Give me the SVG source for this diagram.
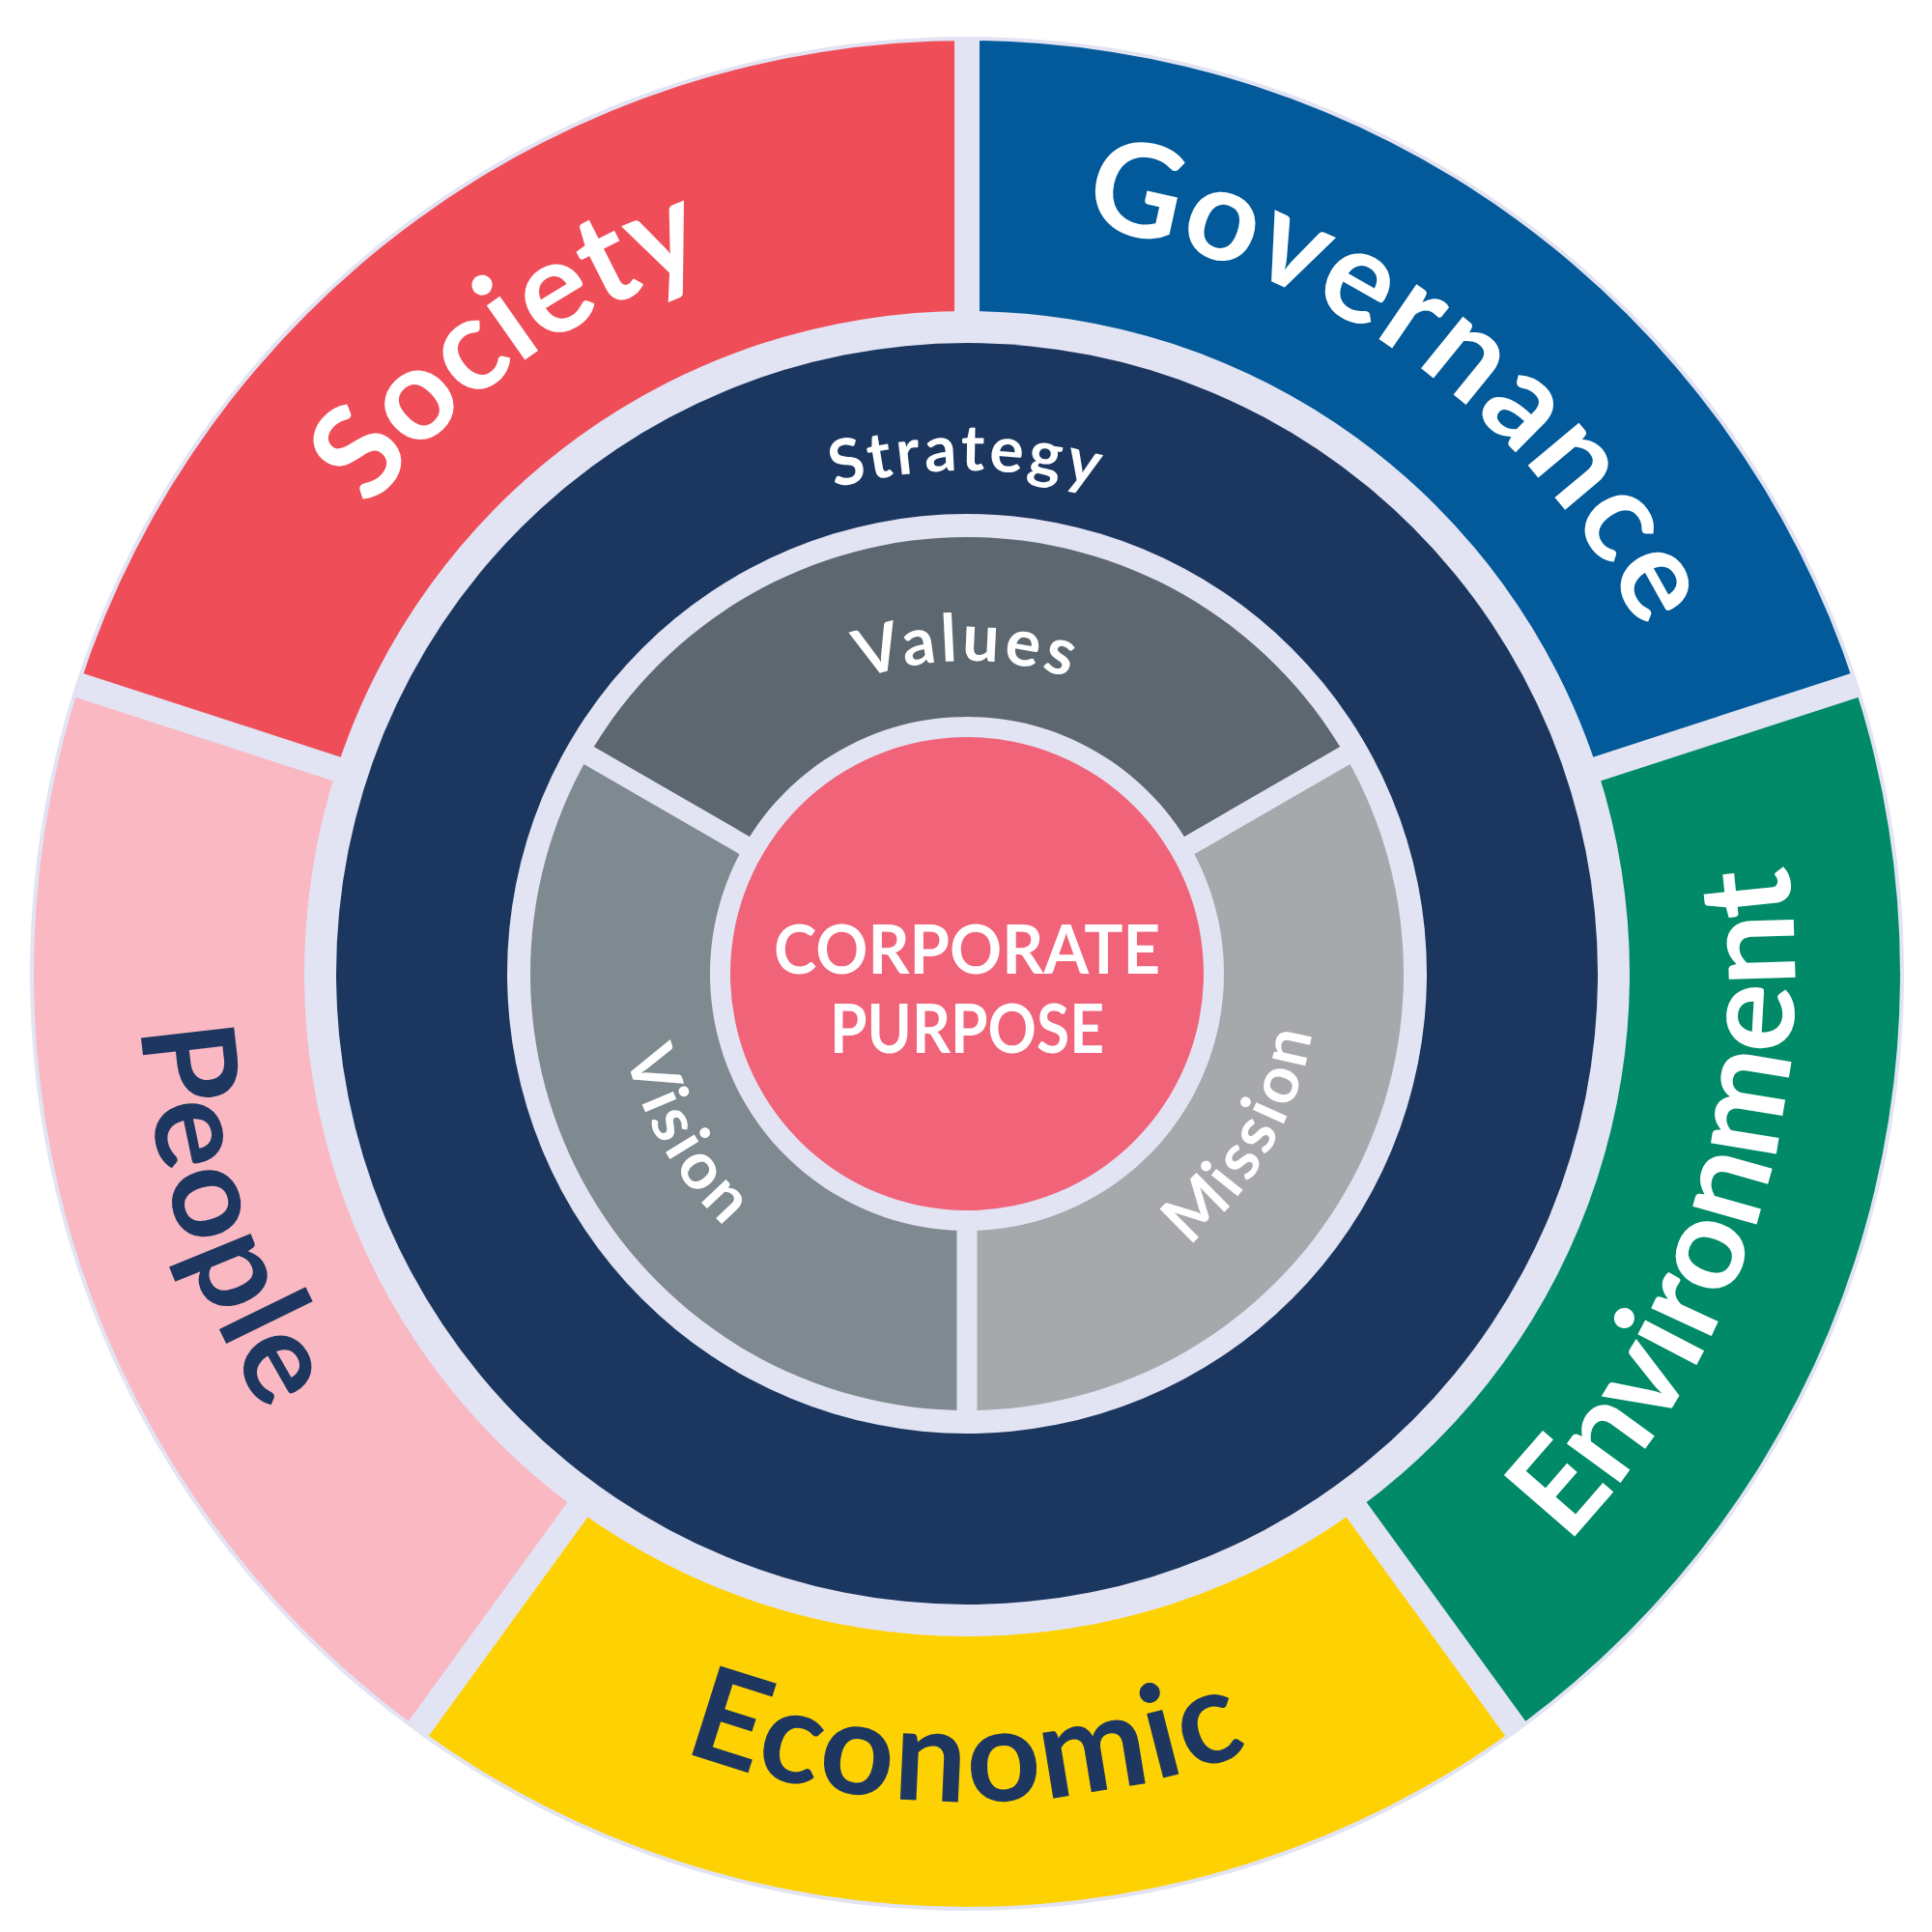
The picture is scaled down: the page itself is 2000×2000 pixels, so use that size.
<svg xmlns="http://www.w3.org/2000/svg" width="2000" height="2000" viewBox="0 0 2000 2000">
<style>
.lbl{font-family:Lato,"Liberation Sans",sans-serif;font-weight:700;}
.outer{font-size:134px;letter-spacing:3px;}
.tight{letter-spacing:0px;}
.inner{font-size:68px;letter-spacing:4px;}
.strat{font-size:66px;letter-spacing:4px;}
.w{fill:#FFFFFF;}
.n{fill:#1D3760;}
.div{stroke:#E2E3F3;stroke-linecap:butt;}
</style>
<defs>
<path id="pSociety" d="M 367.54,1468.24 A 783 783 0 0 1 1634.46,547.76"/>
<path id="pGovernance" d="M 367.54,547.76 A 783 783 0 0 1 1634.46,1468.24"/>
<path id="pEnvironment" d="M 736.17,1823.06 A 857 857 0 0 0 1265.83,192.94"/>
<path id="pEconomic" d="M 144,1008 A 857 857 0 0 0 1858,1008"/>
<path id="pPeople" d="M 736.17,192.94 A 857 857 0 0 0 1265.83,1823.06"/>
<path id="pStrategy" d="M 480,1008 A 521 521 0 0 1 1522,1008"/>
<path id="pValues" d="M 677,1008 A 324 324 0 0 1 1325,1008"/>
<path id="pVision" d="M 819,692.77 A 364 364 0 0 0 1183,1323.23"/>
<path id="pMission" d="M 819,1323.23 A 364 364 0 0 0 1183,692.77"/>
</defs>
<rect width="2000" height="2000" fill="#FFFFFF"/>
<circle id="outer-rim" cx="1001" cy="1008" r="970" fill="#E2E3F3"/>
<g id="society">
<path d="M 82.28,709.49 A 966 966 0 0 1 1001,42 L 1001,322 A 686 686 0 0 0 348.57,796.01 Z" fill="#EF4D58"/>
<text class="lbl outer tight w"><textPath href="#pSociety" startOffset="50%" text-anchor="middle">Society</textPath></text>
</g>
<g id="governance">
<path d="M 1001,42 A 966 966 0 0 1 1919.72,709.49 L 1653.43,796.01 A 686 686 0 0 0 1001,322 Z" fill="#025A9A"/>
<text class="lbl outer w"><textPath href="#pGovernance" startOffset="50%" text-anchor="middle">Governance</textPath></text>
</g>
<g id="environment">
<path d="M 1919.72,709.49 A 966 966 0 0 1 1568.80,1789.51 L 1404.22,1562.99 A 686 686 0 0 0 1653.43,796.01 Z" fill="#018A68"/>
<text class="lbl outer tight w"><textPath href="#pEnvironment" startOffset="50%" text-anchor="middle">Environment</textPath></text>
</g>
<g id="economic">
<path d="M 1568.80,1789.51 A 966 966 0 0 1 433.20,1789.51 L 597.78,1562.99 A 686 686 0 0 0 1404.22,1562.99 Z" fill="#FED202"/>
<text class="lbl outer n"><textPath href="#pEconomic" startOffset="50%" text-anchor="middle">Economic</textPath></text>
</g>
<g id="people">
<path d="M 433.20,1789.51 A 966 966 0 0 1 82.28,709.49 L 348.57,796.01 A 686 686 0 0 0 597.78,1562.99 Z" fill="#F9B8C2"/>
<text class="lbl outer n"><textPath href="#pPeople" startOffset="50%" text-anchor="middle">People</textPath></text>
</g>
<g id="connectors">
<g class="div" stroke-width="26">
<line x1="1001" y1="360" x2="1001" y2="40" transform="rotate(0 1001 1008)"/>
<line x1="1001" y1="360" x2="1001" y2="40" transform="rotate(72 1001 1008)"/>
<line x1="1001" y1="360" x2="1001" y2="40" transform="rotate(144 1001 1008)"/>
<line x1="1001" y1="360" x2="1001" y2="40" transform="rotate(216 1001 1008)"/>
<line x1="1001" y1="360" x2="1001" y2="40" transform="rotate(288 1001 1008)"/>
</g>
</g>
<g id="strategy">
<circle cx="1001" cy="1008" r="653" fill="#1C375F"/>
<text class="lbl strat w"><textPath href="#pStrategy" startOffset="50%" text-anchor="middle">Strategy</textPath></text>
</g>
<circle id="inner-rim" cx="1001" cy="1008" r="476" fill="#E2E3F3"/>
<g id="values">
<path d="M 609.56,782 A 452 452 0 0 1 1392.44,782 L 1231.36,875 A 266 266 0 0 0 770.64,875 Z" fill="#5C6770"/>
<text class="lbl inner w"><textPath href="#pValues" startOffset="50%" text-anchor="middle">Values</textPath></text>
</g>
<g id="mission">
<path d="M 1392.44,782 A 452 452 0 0 1 1001,1460 L 1001,1274 A 266 266 0 0 0 1231.36,875 Z" fill="#A7A8AC"/>
<text class="lbl inner w"><textPath href="#pMission" startOffset="50%" text-anchor="middle">Mission</textPath></text>
</g>
<g id="vision">
<path d="M 1001,1460 A 452 452 0 0 1 609.56,782 L 770.64,875 A 266 266 0 0 0 1001,1274 Z" fill="#7E8990"/>
<text class="lbl inner w"><textPath href="#pVision" startOffset="50%" text-anchor="middle">Vision</textPath></text>
</g>
<g id="inner-dividers" class="div" stroke-width="21">
<line x1="1001" y1="1250" x2="1001" y2="1466" transform="rotate(0 1001 1008)"/>
<line x1="1001" y1="1250" x2="1001" y2="1466" transform="rotate(120 1001 1008)"/>
<line x1="1001" y1="1250" x2="1001" y2="1466" transform="rotate(240 1001 1008)"/>
</g>
<g id="corporate-purpose">
<circle cx="1001" cy="1008" r="245" fill="#F06379"/>
<text class="lbl w" x="1001" y="1008" font-size="70" text-anchor="middle" textLength="400" lengthAdjust="spacingAndGlyphs">CORPORATE</text>
<text class="lbl w" x="1001" y="1090" font-size="70" text-anchor="middle" textLength="284" lengthAdjust="spacingAndGlyphs">PURPOSE</text>
</g>
</svg>
